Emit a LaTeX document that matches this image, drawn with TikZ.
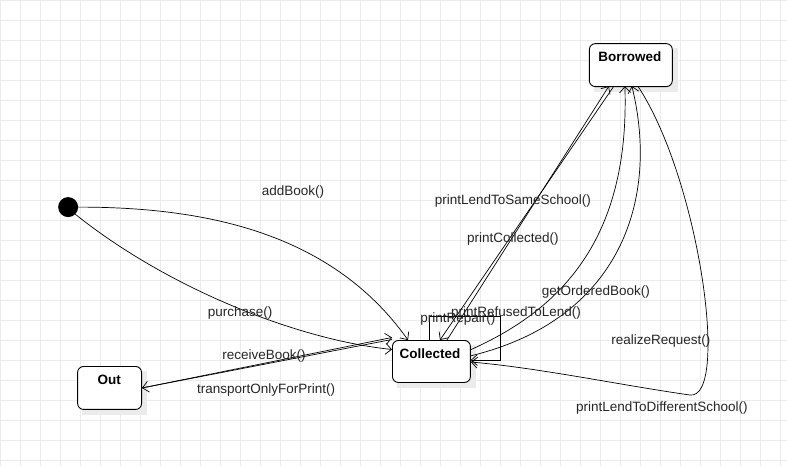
\documentclass[tikz,border=0pt]{standalone}
\usepackage{fontspec}
\setmainfont{Liberation Sans}
\usetikzlibrary{arrows.meta}
\begin{document}
\begin{tikzpicture}[x=1pt,y=-1pt,
  st/.style={draw,rounded corners=6pt,line width=0.9pt,fill=white,anchor=north west,inner sep=0pt},
  bt/.style={font=\bfseries\fontsize{13.5}{15}\selectfont},
  lb/.style={font=\fontsize{13.5}{15}\selectfont,text=black!85},
  e/.style={-{Straight Barb[length=6pt,width=11pt]},line width=0.7pt}]
\fill[white] (0,0) rectangle (787,466);
\foreach \i in {0,20,...,780} \draw[black!8] (\i,0) -- (\i,466);
\foreach \j in {0,20,...,460} \draw[black!8] (0,\j) -- (787,\j);
\useasboundingbox (0,0) rectangle (787,466);
\fill[black!8] (594,48) rectangle (678,92);
\fill[black!8] (397,345) rectangle (476,388);
\fill[black!8] (82,371) rectangle (147,415);
\node[st,minimum width=83pt,minimum height=43pt] (B) at (589,43) {};
\node[bt] at (630,57) {Borrowed};
\node[st,minimum width=78pt,minimum height=42pt] (C) at (392,340) {};
\node[bt] at (430,354) {Collected};
\node[st,minimum width=64pt,minimum height=43pt] (O) at (77,366) {};
\node[bt] at (109,380) {Out};
\node[circle,fill=black,minimum size=20pt,inner sep=0] (S) at (68,207) {};
% start edges
\draw[e] (S.east) .. controls (200,207) and (330,230) .. ([xshift=16]C.north west);
\draw[e] (S.south east) .. controls (170,290) and (300,340) .. ([yshift=12]C.west);
% Out
\draw[e] ([yshift=22]C.west) -- (O.east);
\draw[e] (O.east) -- ([yshift=24]C.west);
% straight Collected-Borrowed
\coordinate (c1) at (447,340);
\coordinate (b1) at (609,86); \coordinate (b2) at (614,86);
\draw[e] (c1) -- (b1);
\draw[e] (b2) -- ([xshift=-7]c1);
% self loop
\draw[e] (429,340) -- (429,316) -- (500,316) -- (500,360) -- (C.east|-0,360);
% curves
\draw[e] (470,350) .. controls (560,310) and (630,240) .. (625,86);
\draw[e] (470,356) .. controls (620,320) and (660,200) .. (632,86);
\draw[e] (638,86) .. controls (700,180) and (730,400) .. (690,395) .. controls (620,385) and (540,368) .. (C.east|-0,362);
% labels
\node[lb] at (293,192) {addBook()};
\node[lb] at (513,201) {printLendToSameSchool()};
\node[lb] at (513,239) {printCollected()};
\node[lb] at (596,292) {getOrderedBook()};
\node[lb] at (516,313) {printRefusedToLend()};
\node[lb] at (458,319) {printRepair()};
\node[lb] at (240,313) {purchase()};
\node[lb] at (264,356) {receiveBook()};
\node[lb] at (266,390) {transportOnlyForPrint()};
\node[lb] at (661,341) {realizeRequest()};
\node[lb] at (662,408) {printLendToDifferentSchool()};
\end{tikzpicture}
\end{document}
